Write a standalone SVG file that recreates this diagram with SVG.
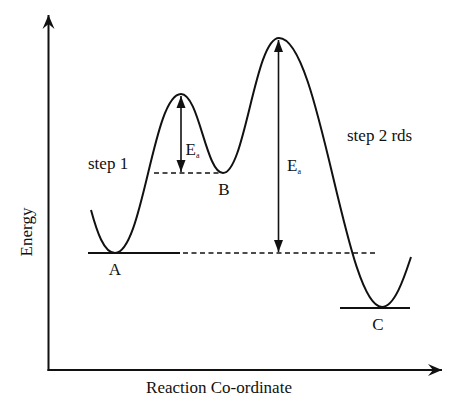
<svg xmlns="http://www.w3.org/2000/svg" width="474" height="404" viewBox="0 0 474 404">
<style>
  text { font-family: "Liberation Serif", "Times New Roman", serif; fill: #111; }
  .lbl { font-size: 17px; }
  .sub { font-size: 8px; }
  .ax { stroke: #111; stroke-width: 2; fill: none; }
  .curve { stroke: #111; stroke-width: 2; fill: none; }
  .lvl { stroke: #111; stroke-width: 2; fill: none; }
  .dash { stroke: #111; stroke-width: 1.6; fill: none; stroke-dasharray: 5 3.5; }
  .ea { stroke: #111; stroke-width: 1.6; fill: none; }
</style>
<defs>
  <marker id="axhead" viewBox="-15 -7 16 14" markerWidth="16" markerHeight="14" refX="0" refY="0" orient="auto" markerUnits="userSpaceOnUse">
    <path d="M0,0 L-14,-6 L-9,0 L-14,6 Z" fill="#111"/>
  </marker>
  <marker id="eahead" viewBox="-12 -5 12 10" markerWidth="12" markerHeight="10" refX="0" refY="0" orient="auto-start-reverse" markerUnits="userSpaceOnUse">
    <path d="M0,0 L-12,-4.5 L-12,4.5 Z" fill="#111"/>
  </marker>
</defs>
<rect width="474" height="404" fill="#fff"/>

<g id="connectors">
  <line class="ax" x1="48.5" y1="371" x2="48.5" y2="15" marker-end="url(#axhead)"/>
  <line class="ax" x1="47.5" y1="370" x2="442" y2="370" marker-end="url(#axhead)"/>
  <path class="curve" d="M91,210 C97,232 104,253 115,253 C143,253 153,94 181,94 C199,94 206,173 223,173 C245,173 255,38 279,38 C320,38 345,307 382,307 C395,307 405,275 411,257"/>
  <line class="lvl" x1="88" y1="253" x2="180" y2="253"/>
  <line class="dash" x1="183" y1="253" x2="378" y2="253"/>
  <line class="dash" x1="154" y1="173" x2="222" y2="173"/>
  <line class="lvl" x1="340" y1="308" x2="410" y2="308"/>
  <line class="ea" x1="181" y1="96" x2="181" y2="172" marker-start="url(#eahead)" marker-end="url(#eahead)"/>
  <line class="ea" x1="278.5" y1="40" x2="278.5" y2="252" marker-start="url(#eahead)" marker-end="url(#eahead)"/>
</g>

<g id="axis-y-label"><text class="lbl" transform="translate(32,232) rotate(-90)" text-anchor="middle">Energy</text></g>
<g id="axis-x-label"><text class="lbl" x="219" y="393" text-anchor="middle">Reaction Co-ordinate</text></g>
<g id="state-A"><text class="lbl" x="115" y="275" text-anchor="middle">A</text></g>
<g id="state-B"><text class="lbl" x="224" y="195" text-anchor="middle">B</text></g>
<g id="state-C"><text class="lbl" x="378" y="330" text-anchor="middle">C</text></g>
<g id="step1"><text class="lbl" x="88" y="169">step 1</text></g>
<g id="step2"><text class="lbl" x="347" y="141">step 2 rds</text></g>
<g id="ea1"><text class="lbl" x="185.5" y="155">E<tspan class="sub" dy="3">a</tspan></text></g>
<g id="ea2"><text class="lbl" x="287" y="171">E<tspan class="sub" dy="3">a</tspan></text></g>
</svg>
